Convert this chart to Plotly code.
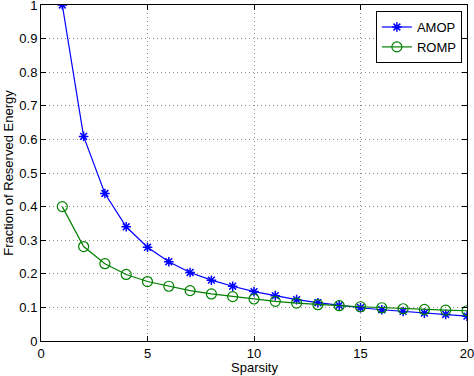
import plotly.graph_objects as go

sparsity = list(range(1, 21))
amop = [1.0, 0.609, 0.439, 0.340, 0.279, 0.236, 0.204, 0.181, 0.163, 0.147,
        0.135, 0.123, 0.114, 0.106, 0.099, 0.093, 0.088, 0.083, 0.079, 0.074]
romp = [0.400, 0.281, 0.230, 0.198, 0.177, 0.163, 0.150, 0.140, 0.132, 0.125,
        0.118, 0.113, 0.108, 0.105, 0.102, 0.099, 0.096, 0.094, 0.092, 0.090]
x_ticks = [0, 5, 10, 15, 20]
y_ticks = [0, 0.1, 0.2, 0.3, 0.4, 0.5, 0.6, 0.7, 0.8, 0.9, 1]

font = "Liberation Sans, Arial, Helvetica, sans-serif"

fig = go.Figure()
fig.add_trace(go.Scatter(x=sparsity, y=amop, name="AMOP", mode="lines+markers",
                         line=dict(color="#0000ff", width=1.2),
                         marker=dict(symbol="asterisk-open", size=8,
                                     line=dict(color="#0000ff", width=1.5))))
fig.add_trace(go.Scatter(x=sparsity, y=romp, name="ROMP", mode="lines+markers",
                         line=dict(color="#008000", width=1.2),
                         marker=dict(symbol="circle-open", size=10,
                                     line=dict(color="#008000", width=1.2))))

axis_common = dict(showline=True, linecolor="black", linewidth=1, mirror="ticks",
                   ticks="inside", ticklen=5, tickcolor="black",
                   showgrid=True, gridcolor="#8c8c8c", griddash="1px,3px", gridwidth=1,
                   zeroline=False, automargin=False, ticklabeloverflow="allow",
                   tickfont=dict(size=13, color="black", family=font))

fig.update_xaxes(range=[0, 20], tickvals=x_ticks, ticktext=[str(v) for v in x_ticks],
                 **axis_common)
fig.update_yaxes(range=[0, 1], tickvals=y_ticks, ticktext=[("%g" % v) for v in y_ticks],
                 **axis_common)

fig.add_annotation(text="Sparsity", xref="paper", yref="paper", x=0.5, y=-0.08,
                   xanchor="center", yanchor="middle", showarrow=False,
                   font=dict(size=13, color="black", family=font))
fig.add_annotation(text="Fraction of Reserved Energy", xref="paper", yref="paper",
                   x=-0.078, y=0.5, xanchor="center", yanchor="middle", textangle=-90,
                   showarrow=False, font=dict(size=13, color="black", family=font))

fig.update_layout(
    width=474, height=376, autosize=False,
    margin=dict(l=41, r=7, t=5, b=35, autoexpand=False),
    paper_bgcolor="white", plot_bgcolor="white",
    font=dict(family=font, size=13, color="black"),
    legend=dict(x=0.988, y=0.982, xanchor="right", yanchor="top",
                bgcolor="white", bordercolor="black", borderwidth=1,
                font=dict(size=13, color="black", family=font),
                tracegroupgap=0, itemwidth=30),
    showlegend=True,
)

fig.write_html("out.html", config={"displayModeBar": False},
               post_script="document.body.style.margin='0';document.body.style.overflow='hidden';")
